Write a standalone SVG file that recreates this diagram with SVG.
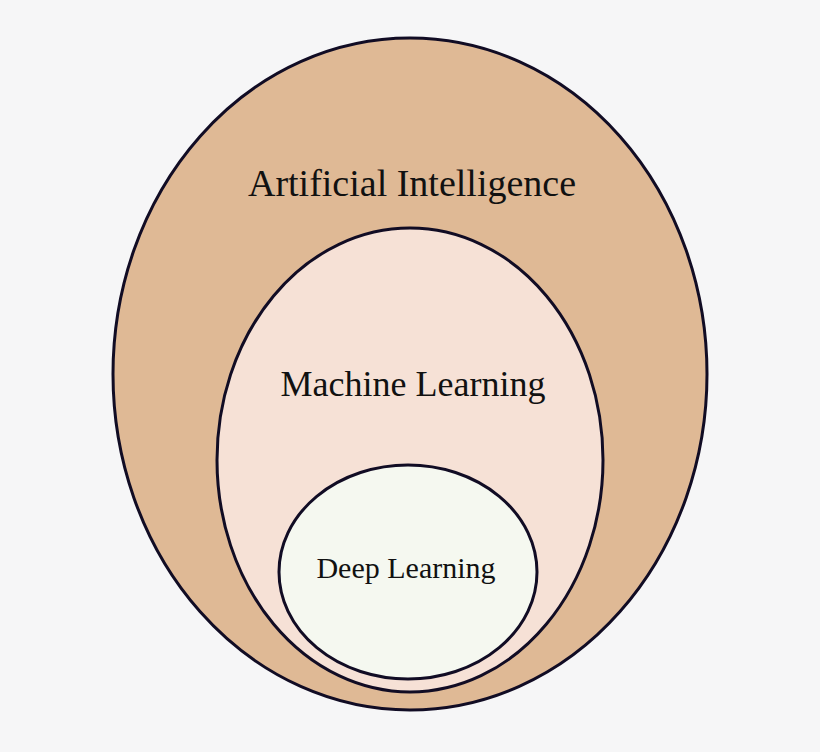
<svg xmlns="http://www.w3.org/2000/svg" width="820" height="752" viewBox="0 0 820 752">
<style>
ellipse{stroke:#110c24;stroke-width:3}
text{font-family:"Liberation Serif",serif;fill:#111;text-anchor:middle}
</style>
<rect width="820" height="752" fill="#f6f6f7"/>
<g id="ai"><ellipse cx="410" cy="374" rx="297" ry="336" fill="#dfb995"/>
<text x="412" y="196" font-size="38">Artificial Intelligence</text></g>
<g id="ml"><ellipse cx="410" cy="460" rx="193" ry="232" fill="#f6e1d6"/>
<text x="413" y="396" font-size="36">Machine Learning</text></g>
<g id="dl"><ellipse cx="408" cy="572" rx="129" ry="107" fill="#f5f8f0"/>
<text x="406" y="578" font-size="30">Deep Learning</text></g>
<g id="connectors"/>
</svg>
